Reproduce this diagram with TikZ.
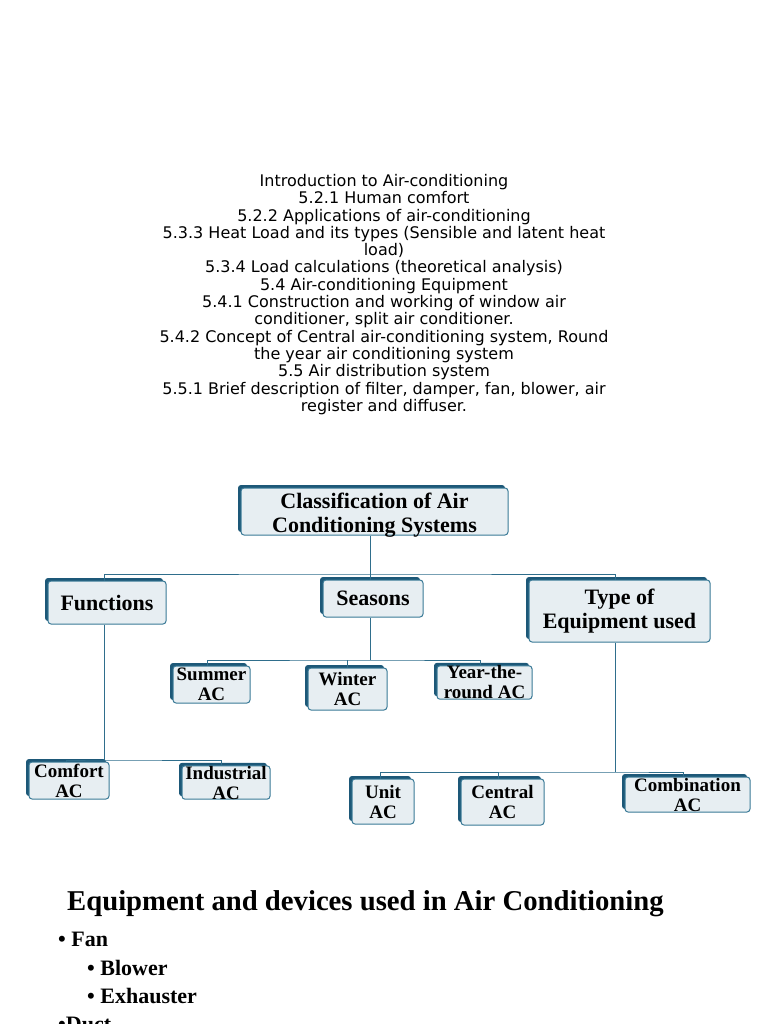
\documentclass[tikz,border=0pt]{standalone}
\usepackage{fontspec}
\setmainfont{Liberation Serif}
\newfontfamily\introfont{DejaVu Sans}
\usetikzlibrary{shadows}
\definecolor{boxfill}{HTML}{E7EEF2}
\definecolor{boxline}{HTML}{3A7A97}
\definecolor{boxshade}{HTML}{1D5878}
\definecolor{linkcol}{HTML}{2F6E8C}
\tikzset{
  box/.style={draw=boxline,fill=boxfill,rounded corners=3pt,line width=1pt,
    align=center,inner sep=0pt,font=\bfseries\fontsize{22}{24}\selectfont,
    general shadow={shadow xshift=-3pt,shadow yshift=3pt,fill=boxshade,rounded corners=3pt}},
  leaf/.style={box,font=\bfseries\fontsize{19}{20}\selectfont},
  link/.style={draw=linkcol,line width=0.8pt},
  item/.style={anchor=west,inner sep=0pt,font=\bfseries\fontsize{22}{24}\selectfont}
}

\begin{document}
\begin{tikzpicture}[x=1pt,y=-1pt]
  \useasboundingbox[fill=white] (0,0) rectangle (768,1024);
  % syllabus
  \node[align=center,inner sep=0pt,font=\introfont\fontsize{16}{17.3}\selectfont] (intro) at (384,294.5) {%
    Introduction to Air-conditioning\\
    5.2.1 Human comfort\\
    5.2.2 Applications of air-conditioning\\
    5.3.3 Heat Load and its types (Sensible and latent heat\\
    load)\\
    5.3.4 Load calculations (theoretical analysis)\\
    5.4 Air-conditioning Equipment\\
    5.4.1 Construction and working of window air\\
    conditioner, split air conditioner.\\
    5.4.2 Concept of Central air-conditioning system, Round\\
    the year air conditioning system\\
    5.5 Air distribution system\\
    5.5.1 Brief description of filter, damper, fan, blower, air\\
    register and diffuser.};
  % classification tree
  \node[box,minimum width=267pt,minimum height=47pt,text height=42pt,text depth=0pt] (root) at (374.5,511.5) {Classification of Air\\Conditioning Systems};
  \node[box,minimum width=118pt,minimum height=43pt] (func) at (107,602.5) {Functions};
  \node[box,minimum width=100pt,minimum height=37pt] (seas) at (373,598.5) {Seasons};
  \node[box,minimum width=181pt,minimum height=62pt] (type) at (619.5,611) {Type of\\Equipment used};
  % seasons
  \node[leaf,minimum width=77pt,minimum height=37pt] (summer) at (211.5,684.5) {Summer\\AC};
  \node[leaf,minimum width=79pt,minimum height=42pt] (winter) at (347.5,689) {Winter\\AC};
  \node[leaf,minimum width=95pt,minimum height=33pt] (year) at (484.5,682.5) {Year-the-\\round AC};
  % functions
  \node[leaf,minimum width=80pt,minimum height=37pt] (comfort) at (69,780.5) {Comfort\\AC};
  \node[leaf,minimum width=88pt,minimum height=31pt] (indus) at (226,782.5) {Industrial\\AC};
  % equipment
  \node[leaf,minimum width=62pt,minimum height=45pt] (unit) at (383,801.5) {Unit\\AC};
  \node[leaf,minimum width=83pt,minimum height=46pt] (central) at (502.5,802) {Central\\AC};
  \node[leaf,minimum width=125pt,minimum height=35pt] (combi) at (687.5,794.5) {Combination\\AC};
  % connectors
  \coordinate (b1) at (370,574);
  \draw[link] (root.south -| b1) -- (b1);
  \draw[link] ([xshift=-3pt]func.north) |- (b1) -| ([xshift=-4pt]type.north);
  \draw[link] (b1) -- (b1 |- seas.north);
  \coordinate (b2) at (370,660);
  \draw[link] (seas.south -| b2) -- (b2);
  \draw[link] ([xshift=-4pt]summer.north) |- (b2) -| ([xshift=-4pt]year.north);
  \draw[link] (winter.north) -- (winter.north |- b2);
  \coordinate (b3) at (104,760);
  \draw[link] (func.south -| b3) -- (b3);
  \draw[link] ([xshift=-3pt]comfort.north) |- (b3) -| ([xshift=-5pt]indus.north);
  \coordinate (b4) at (615,772);
  \draw[link] (type.south -| b4) -- (b4);
  \draw[link] ([xshift=-3pt]unit.north) |- (b4) -| ([xshift=-4pt]combi.north);
  \draw[link] ([xshift=-4pt]central.north) -- ([xshift=-4pt]central.north |- b4);
  % equipment list
  \node[anchor=west,inner sep=0pt,font=\bfseries\fontsize{28.7}{32}\selectfont] (title) at (67,903.5) {Equipment and devices used in Air Conditioning};
  \node[item] (fan) at (58,939.5) {\textbullet\ Fan};
  \node[item] (blower) at (87,967.5) {\textbullet\ Blower};
  \node[item] (exhaust) at (87,995.5) {\textbullet\ Exhauster};
  \node[item] (duct) at (58,1024) {\textbullet Duct};
\end{tikzpicture}
\end{document}
